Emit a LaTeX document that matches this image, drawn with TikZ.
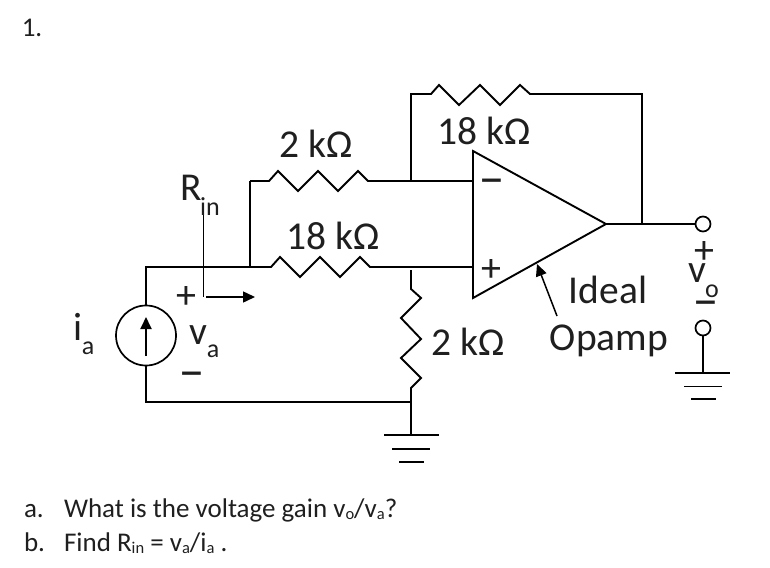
\documentclass[tikz,border=0pt]{standalone}
\usepackage{fontspec}
\setmainfont{Carlito}
\usetikzlibrary{arrows.meta}
\newcommand{\fs}[1]{\fontsize{#1}{#1}\selectfont}
\newcommand{\sbs}[1]{\raisebox{-2.5pt}{\fs{16.5}#1}}
\tikzset{
  wire/.style={draw=black,line width=1.9pt,line join=miter},
  thin wire/.style={draw=black,line width=1.5pt},
  lab/.style={inner sep=0pt,outer sep=0pt,text=black!88},
  biglab/.style={lab,font=\fs{39.5}},
  sublab/.style={lab,font=\fs{26}},
  sign/.style={lab,font=\fs{40}},
  minus/.style={lab,font=\fs{50}},
  body/.style={lab,font=\fs{27},anchor=base west},
  terminal/.style={circle,draw=black,line width=1.7pt,minimum size=15pt,inner sep=0pt,fill=white},
  head/.style={-{Triangle[length=12pt,width=11pt]}}
}
\begin{document}
\begin{tikzpicture}[x=1pt,y=-1pt]
\useasboundingbox (0,0) rectangle (770,567);
\fill[white] (0,0) rectangle (770,567);
% junctions
\coordinate (jl) at (146,267);
\coordinate (j1) at (250,267);
\coordinate (jm) at (250,181);
\coordinate (jf) at (411,181);
\coordinate (ft) at (411,94);
\coordinate (fr) at (642,94);
\coordinate (jo) at (642,224);
\coordinate (jp) at (411,267);
\coordinate (gb) at (411,402);
\coordinate (bl) at (146,402);
\coordinate (g1) at (411,435);
\coordinate (g2) at (703,373);
% opamp
\coordinate (ot) at (473,151);
\coordinate (ob) at (473,298);
\coordinate (tip) at (606,224);
\coordinate (inm) at (473,181);
\coordinate (inp) at (473,267);
\draw[wire] (ot) -- (tip) -- (ob) -- cycle;
% source
\node[circle,draw=black,line width=1.7pt,minimum size=60pt,inner sep=0pt] (src) at (146,335.5) {};
\draw[wire,head] (146,356) -- (146,317);
\draw[wire] (src.north) -- (jl) -- (j1);
\draw[wire] (src.south) -- (bl) -- (gb);
% resistors
\draw[wire] (jm) -- (269,181) -- (278,171) -- (298,191) -- (318,171) -- (338,191) -- (358,171) -- (368,181) -- (inm);
\draw[wire] (j1) -- (jm);
\draw[wire] (j1) -- (271,267) -- (280,257) -- (300,277) -- (320,257) -- (340,277) -- (360,257) -- (370,267) -- (inp);
\draw[wire] (jf) -- (ft) -- (431,94) -- (439,85) -- (459,105) -- (480,85) -- (500,105) -- (520,85) -- (530,94) -- (fr) -- (jo);
\draw[wire] (411,270) -- (411,289) -- (421,298) -- (401,318) -- (421,339) -- (401,358) -- (421,378) -- (411,388) -- (g1);
% output
\node[terminal] (vp) at (703,224) {};
\node[terminal] (vm) at (703,328) {};
\draw[wire] (tip) -- (vp);
\draw[wire] (vm) -- (g2);
% grounds
\draw[wire] (384,435) -- (g1) -- (439,435);
\draw[wire] (392,449) -- (430,449);
\draw[wire] (399,462) -- (424,462);
\draw[wire] (675,373) -- (g2) -- (730,373);
\draw[wire] (684,386.5) -- (722,386.5);
\draw[wire] (691,399) -- (716,399);
% Rin
\coordinate (rt) at (203.5,212);
\coordinate (rb) at (203.5,297);
\coordinate (ra) at (206,297);
\coordinate (rh) at (255,297);
\draw[wire] (rt) -- (rb);
\draw[thin wire,head] (ra) -- (rh);
% Ideal arrow
\coordinate (ia) at (557,316);
\coordinate (ih) at (537,264);
\draw[thin wire,head] (ia) -- (ih);
% labels
\node[lab,font=\fs{27}] (num) at (32,28) {1.};
\node[biglab] (r1) at (316,144) {2 kΩ};
\node[biglab] (r2) at (333,236) {18 kΩ};
\node[biglab] (r3) at (484,131) {18 kΩ};
\node[biglab] (r4) at (468,342) {2 kΩ};
\node[biglab] (ideal) at (608,290) {Ideal};
\node[biglab] (opamp) at (609,341) {Opamp};
\node[biglab] (rr) at (191,188) {R};
\node[sublab] (rs) at (210,207) {in};
\node[biglab] (ii) at (78,327) {i};
\node[sublab] (ias) at (88,348) {a};
\node[biglab] (vv) at (198,335) {v};
\node[sublab] (vas) at (213,351) {a};
\node[sign] (pl) at (186,298) {+};
\node[minus] (mi) at (192,381) {−};
\node[minus] (opm) at (492,188) {−};
\node[sign] (opp) at (491,270.5) {+};
\node[sign] (op) at (704,253) {+};
\node[biglab] (vo) at (697,273.5) {v};
\node[sublab] (vos) at (712,291) {o};
\node[minus] (om) at (706,310) {−};
\node[body] (qa1) at (24,517) {a.};
\node[body] (qa2) at (64,517) {What is the voltage gain v\sbs{o}/v\sbs{a}?};
\node[body] (qb1) at (24,551) {b.};
\node[body] (qb2) at (64,551) {Find R\sbs{in} = v\sbs{a}/i\sbs{a} .};
\end{tikzpicture}
\end{document}
